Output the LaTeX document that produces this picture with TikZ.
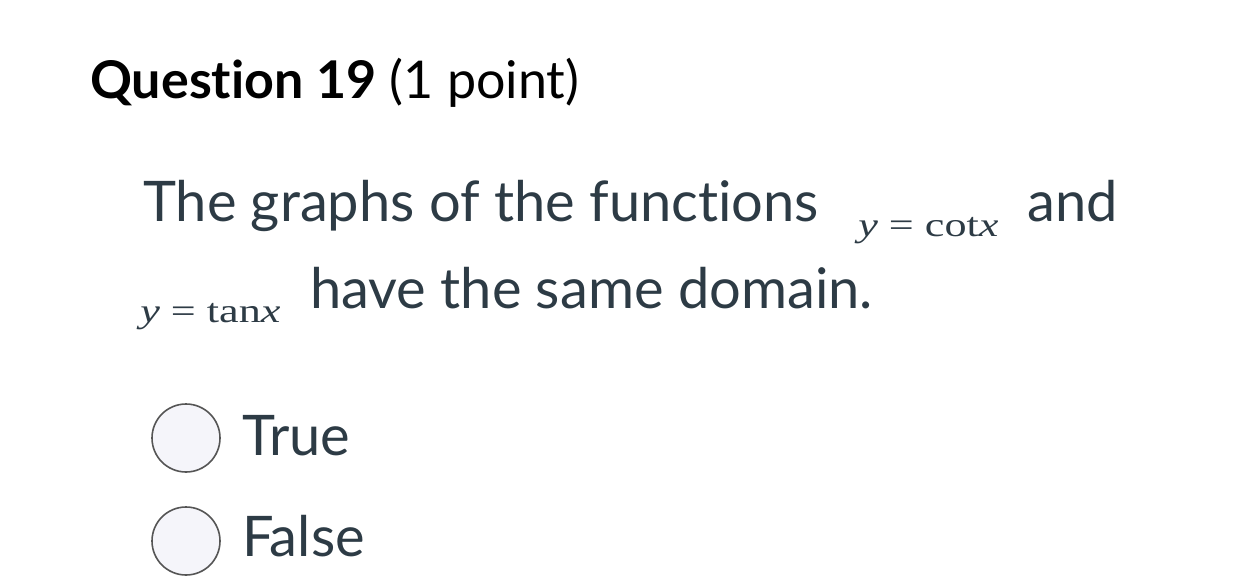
\documentclass[tikz,border=0pt]{standalone}
\usepackage{fontspec}
\setmainfont[Ligatures=NoCommon]{Lato}
\newfontfamily\mathimg{Liberation Serif}
\definecolor{txt}{HTML}{2D3B45}
\definecolor{rfill}{HTML}{F5F5FA}
\definecolor{rline}{HTML}{555555}
\tikzset{lab/.style={inner sep=0pt,anchor=base west,text=black},
 big/.style={lab,text=txt,font=\fontsize{56}{56}\selectfont},
 radio/.style={circle,draw=rline,line width=1.6pt,fill=rfill,minimum size=68pt,inner sep=0pt},
 mimg/.style={inner sep=0pt,anchor=base west,text=txt,xscale=1.3,transform shape,font=\mathimg\fontsize{34}{34}\selectfont}}
\begin{document}
\begin{tikzpicture}[x=1pt,y=-1pt]
\useasboundingbox (0,0) rectangle (1242,586);
\node[lab,font=\fontsize{52}{52}\selectfont] (q) at (90,99) {\textbf{Question 19} (1 point)};
\node[big] (l1) at (143,221) {The graphs of the functions};
\node[mimg] (m1) at (858,236) {\textit{y} = cot\textit{x}};
\node[big] (and) at (1027,221) {and};
\node[mimg] (m2) at (140,322) {\textit{y} = tan\textit{x}};
\node[big] (l2) at (310,308) {have the same domain.};
\node[radio] (r1) at (186,438) {};
\node[radio] (r2) at (186,541) {};
\node[big] (t) at (242,455) {True};
\node[big] (f) at (242,556) {False};
\end{tikzpicture}
\end{document}
